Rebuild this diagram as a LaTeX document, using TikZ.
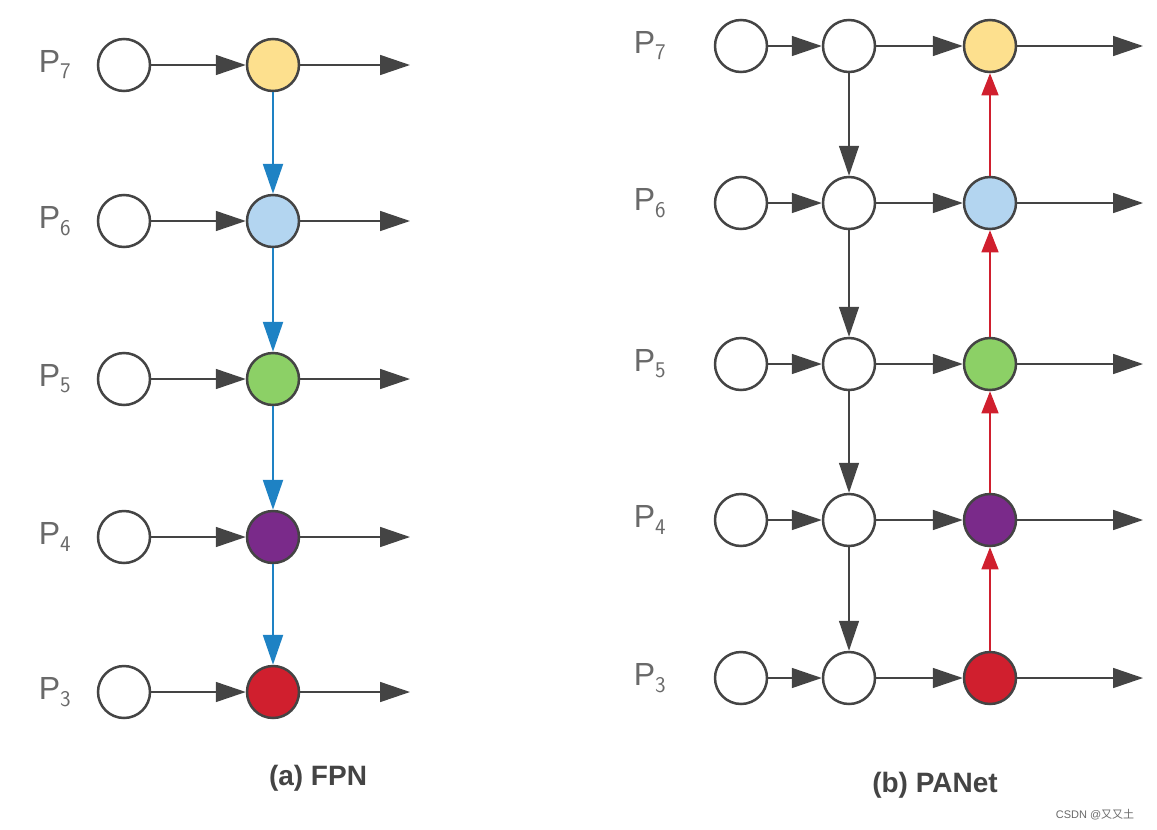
\documentclass[tikz,border=0pt]{standalone}
\usepackage{fontspec}
\setmainfont{Liberation Sans}
\newfontfamily\cjk{Noto Sans CJK SC}
\usetikzlibrary{arrows.meta}
\definecolor{cy}{HTML}{FDE08E}
\definecolor{cb}{HTML}{B3D5F0}
\definecolor{cg}{HTML}{8CD066}
\definecolor{cp}{HTML}{7A2A8A}
\definecolor{cr}{HTML}{D01F2E}
\definecolor{ga}{HTML}{444444}
\definecolor{bl}{HTML}{1E82C4}
\begin{document}
\begin{tikzpicture}[x=1pt,y=-1pt,
  c/.style={circle,draw=ga,line width=2.5pt,minimum size=52pt,inner sep=0pt,fill=white},
  lab/.style={text=ga!80,font=\fontsize{32}{32}\selectfont,anchor=center},
  ar/.style={draw=ga,line width=1.6pt,-{Triangle[length=30pt,width=20pt]}},
  arb/.style={draw=bl,line width=2.4pt,-{Triangle[length=30pt,width=20pt]}},
  arr/.style={draw=cr,line width=1.4pt,-{Triangle[length=22pt,width=17pt]}},
  ard/.style={draw=ga,line width=1.4pt,-{Triangle[length=30pt,width=20pt]}}]
\useasboundingbox (0,0) rectangle (1157,830);
% left FPN
\foreach \y/\col/\n in {65/cy/7,221/cb/6,379/cg/5,537/cp/4,692/cr/3}{
  \node[lab] (la\n) at (55,\y) {P$_{\mathsf{\n}}$};
  \node[c] (ia\n) at (124,\y) {};
  \node[c,fill=\col] (oa\n) at (273,\y) {};
  \coordinate (ea\n) at (410,\y);
  \draw[ar] (ia\n) -- (oa\n);
  \draw[ar] (oa\n) -- (ea\n);
}
\draw[arb] (oa7) -- (oa6);
\draw[arb] (oa6) -- (oa5);
\draw[arb] (oa5) -- (oa4);
\draw[arb] (oa4) -- (oa3);
\node[font=\bfseries\fontsize{28}{28}\selectfont,text=ga] (ca) at (318,778) {(a) FPN};
% right PANet
\foreach \y/\col/\n in {46/cy/7,203/cb/6,364/cg/5,520/cp/4,678/cr/3}{
  \node[lab] (lb\n) at (650,\y) {P$_{\mathsf{\n}}$};
  \node[c] (ib\n) at (741,\y) {};
  \node[c] (mb\n) at (849,\y) {};
  \node[c,fill=\col] (ob\n) at (990,\y) {};
  \coordinate (eb\n) at (1143,\y);
  \draw[ar] (ib\n) -- (mb\n);
  \draw[ar] (mb\n) -- (ob\n);
  \draw[ar] (ob\n) -- (eb\n);
}
\draw[ard] (mb7) -- (mb6);
\draw[ard] (mb6) -- (mb5);
\draw[ard] (mb5) -- (mb4);
\draw[ard] (mb4) -- (mb3);
\draw[arr] (ob3) -- (ob4);
\draw[arr] (ob4) -- (ob5);
\draw[arr] (ob5) -- (ob6);
\draw[arr] (ob6) -- (ob7);
\node[font=\bfseries\fontsize{28}{28}\selectfont,text=ga] (cb) at (935,785) {(b) PANet};
\node[font=\fontsize{11}{11}\selectfont,text=ga!80] (wm) at (1095,815) {CSDN @{\cjk 又又土}};
\end{tikzpicture}
\end{document}
